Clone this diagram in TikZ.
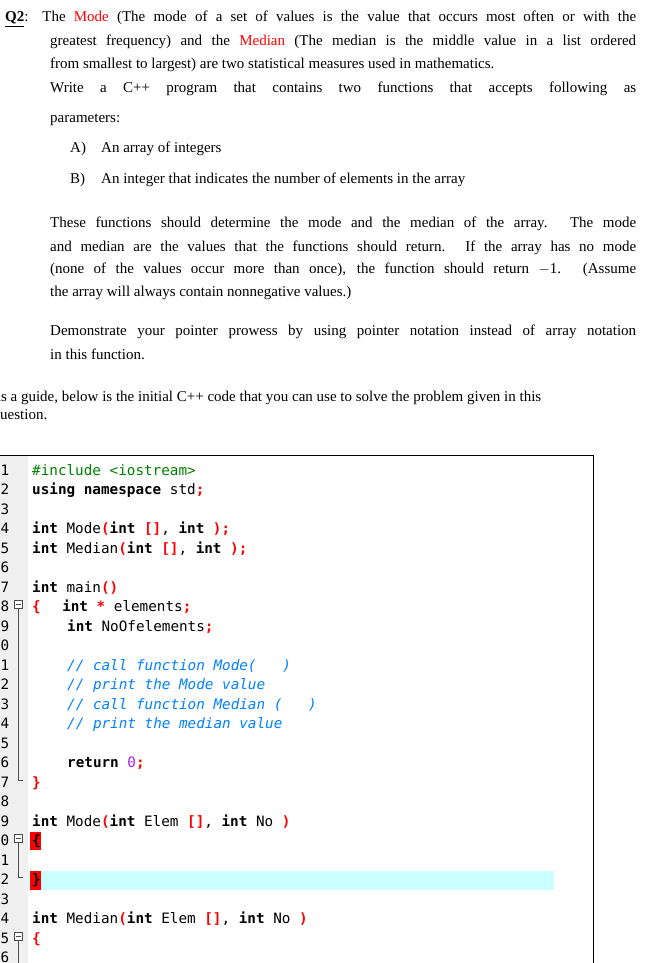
\documentclass[tikz,border=0pt]{standalone}
\usepackage{fontspec}
\usetikzlibrary{calc}
\setmainfont{Liberation Serif}
\newfontfamily\codefont{DejaVu Sans Mono}
\definecolor{kred}{RGB}{255,0,0}
\definecolor{kgreen}{RGB}{0,128,0}
\definecolor{kblue}{RGB}{0,128,255}
\definecolor{kpurple}{RGB}{160,32,240}
\definecolor{hcyan}{RGB}{204,255,255}
\definecolor{gutter}{RGB}{240,240,240}
\newcommand{\kw}[1]{\textbf{#1}}
\newcommand{\rd}[1]{\textcolor{kred}{\textbf{#1}}}
\newcommand{\cm}[1]{\textcolor{kblue}{\itshape #1}}
\begin{document}
\begin{tikzpicture}[x=1pt,y=-1pt,
  txt/.style={anchor=base west,inner sep=0pt,font=\fontsize{15}{18}\selectfont},
  code/.style={anchor=base west,inner sep=0pt,font=\codefont\fontsize{14.3}{17}\selectfont},
  lnum/.style={anchor=base east,inner sep=0pt,font=\codefont\fontsize{14.3}{17}\selectfont},
  fold/.style={draw=black!70,line width=0.6pt}]
\useasboundingbox (0,0) rectangle (670,963);
\clip (0,0) rectangle (670,963);
\node[txt] (t1) at (5,22) {\makebox[631pt][s]{\textbf{\underline{Q2}}: The \textcolor{kred}{Mode} (The mode of a set of values is the value that occurs most often or with the}};
\node[txt] (t2) at (50,46) {\makebox[586pt][s]{greatest frequency) and the \textcolor{kred}{Median} (The median is the middle value in a list ordered}};
\node[txt] (t3) at (50,69) {from smallest to largest) are two statistical measures used in mathematics.};
\node[txt] (t4) at (50,93) {\makebox[586pt][s]{Write a C++ program that contains two functions that accepts following as}};
\node[txt] (t5) at (50,123) {parameters:};
\node[txt] (a1) at (70,153) {A)};
\node[txt] (a2) at (101,153) {An array of integers};
\node[txt] (b1) at (70,183) {B)};
\node[txt] (b2) at (101,183) {An integer that indicates the number of elements in the array};
\node[txt] (p1) at (50,227) {\makebox[586pt][s]{These functions should determine the mode and the median of the array. The mode}};
\node[txt] (p2) at (50,251) {\makebox[586pt][s]{and median are the values that the functions should return. If the array has no mode}};
\node[txt] (p3) at (50,273) {\makebox[586pt][s]{(none of the values occur more than once), the function should return $-$1. (Assume}};
\node[txt] (p4) at (50,296) {the array will always contain nonnegative values.)};
\node[txt] (q1) at (50,335) {\makebox[586pt][s]{Demonstrate your pointer prowess by using pointer notation instead of array notation}};
\node[txt] (q2) at (50,359) {in this function.};
\node[txt] (g1) at (-10,401) {As a guide, below is the initial C++ code that you can use to solve the problem given in this};
\node[txt] (g2) at (-7.5,419) {question.};
\fill[gutter] (0,456) rectangle (28,963);
\fill[hcyan] (28,871) rectangle (554,890);
\draw[line width=0.8pt] (0,455.5) -- (593,455.5) -- (593,963);
\foreach \k in {1,...,26}{
  \node[lnum] (n\k) at (9.5,{475+(\k-1)*19.5}) {\k};
}
\foreach \a/\e in {8/17,20/22,25/27}{
  \draw[fold] (18,{468+(\a-1)*19.5}) -- (18,{468+(\e-1)*19.5}) -- (23,{468+(\e-1)*19.5});
  \draw[fold,fill=white] (14,{464+(\a-1)*19.5}) rectangle (22,{472+(\a-1)*19.5});
  \draw[fold] (15.5,{468+(\a-1)*19.5}) -- (20.5,{468+(\a-1)*19.5});
}
\node[code] (c1) at (32,475) {\textcolor{kgreen}{\#include <iostream>}};
\node[code] (c2) at (32,494.5) {\kw{using namespace} std\rd{;}};
\node[code] (c4) at (32,533.5) {\kw{int} Mode\rd{(}\kw{int} \rd{[]}, \kw{int} \rd{);}};
\node[code] (c5) at (32,553) {\kw{int} Median\rd{(}\kw{int} \rd{[]}, \kw{int} \rd{);}};
\node[code] (c7) at (32,592) {\kw{int} main\rd{()}};
\node[code] (c8) at (32,611.5) {\rd{\{}\hspace{1.5em}\kw{int} \rd{*} elements\rd{;}};
\node[code] (c9) at (67,631) {\kw{int} NoOfelements\rd{;}};
\node[code] (c11) at (67,670) {\cm{// call function Mode(\ \ \ )}};
\node[code] (c12) at (67,689.5) {\cm{// print the Mode value}};
\node[code] (c13) at (67,709) {\cm{// call function Median (\ \ \ )}};
\node[code] (c14) at (67,728.5) {\cm{// print the median value}};
\node[code] (c16) at (67,767.5) {\kw{return} \textcolor{kpurple}{0}\rd{;}};
\node[code] (c17) at (32,787) {\rd{\}}};
\node[code] (c19) at (32,826) {\kw{int} Mode\rd{(}\kw{int} Elem \rd{[]}, \kw{int} No \rd{)}};
\fill[kred] (30,832) rectangle (41,850);
\node[code] (c20) at (32,845.5) {\textbf{\{}};
\fill[kred] (30,871) rectangle (41,890);
\node[code] (c22) at (32,884.5) {\textbf{\}}};
\node[code] (c24) at (32,923.5) {\kw{int} Median\rd{(}\kw{int} Elem \rd{[]}, \kw{int} No \rd{)}};
\node[code] (c25) at (32,943) {\rd{\{}};
\end{tikzpicture}
\end{document}
